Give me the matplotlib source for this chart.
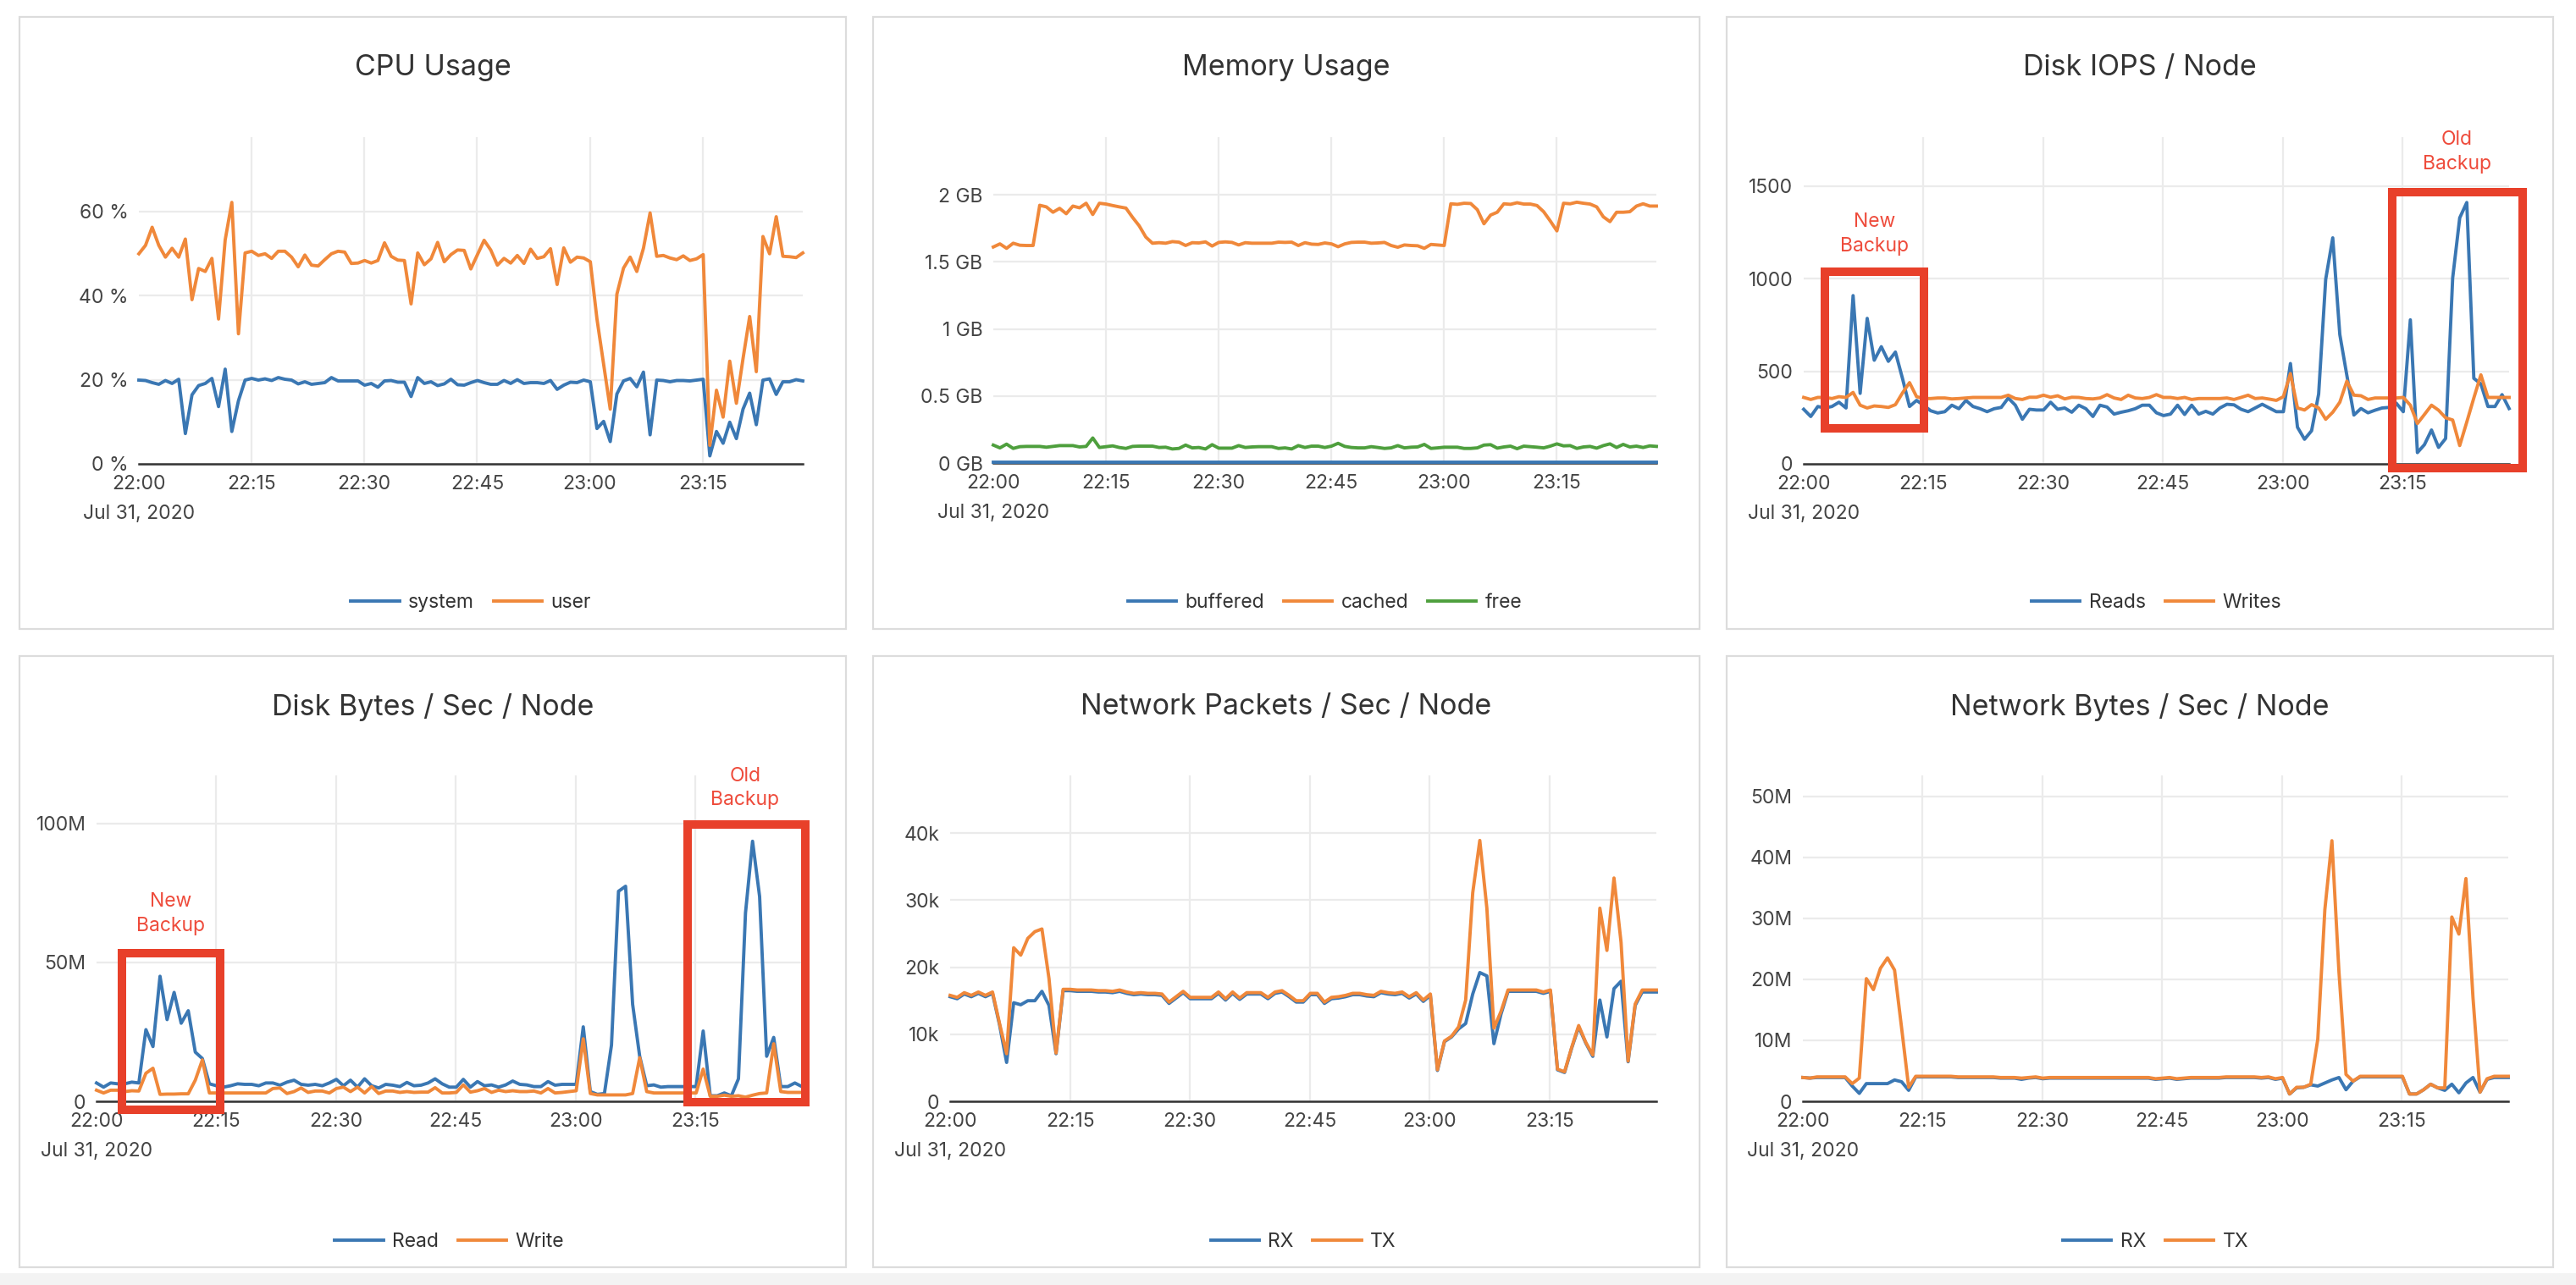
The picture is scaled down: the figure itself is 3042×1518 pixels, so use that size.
import numpy as np
import matplotlib
matplotlib.use('Agg')
import matplotlib.pyplot as plt
import matplotlib.dates as mdates
from matplotlib.patches import Rectangle
from matplotlib.ticker import FuncFormatter

plt.rcParams['font.family'] = ['Inter', 'DejaVu Sans']

BLUE = '#3a77b3'
ORANGE = '#f0883a'
GREEN = '#4e9f3d'
RED = '#e8402a'
RED_TXT = '#ee4b3b'

# sample grid: one point every 53 s from 22:00
start = np.datetime64('2020-07-31T22:00:00')
times = start + np.arange(101) * np.timedelta64(53, 's')

# CPU (%)
cpu_system = [19.9, 19.8, 19.3, 18.9, 19.8, 19.1, 20.1, 7.2, 16.4, 18.6,
              19.1, 20.3, 13.6, 22.5, 7.7, 15.0, 19.9, 20.3, 19.9, 20.2,
              19.8, 20.5, 20.1, 19.9, 19.0, 19.5, 18.9, 19.1, 19.3, 20.5,
              19.7, 19.7, 19.7, 19.7, 18.7, 19.1, 18.2, 19.7, 19.8, 19.4,
              19.4, 16.0, 20.5, 19.1, 19.5, 18.6, 19.0, 20.1, 18.8, 18.7,
              19.3, 19.8, 19.3, 18.9, 18.9, 19.8, 19.1, 20.0, 19.1, 19.3,
              19.3, 19.1, 19.8, 17.7, 18.7, 19.4, 19.3, 19.9, 19.5, 8.4,
              10.1, 5.3, 16.6, 19.7, 20.3, 18.3, 21.8, 6.9, 19.9, 19.8,
              19.5, 19.8, 19.8, 19.7, 19.9, 20.1, 1.9, 7.7, 4.9, 9.9,
              6.0, 13.0, 16.8, 9.3, 19.9, 20.2, 16.5, 19.5, 19.5, 20.0,
              19.7]
cpu_user = [49.9, 51.9, 56.2, 51.9, 49.1, 51.2, 49.1, 53.4, 39.0, 46.4,
            45.7, 48.8, 34.4, 53.2, 62.1, 30.9, 50.1, 50.5, 49.5, 49.9,
            48.8, 50.5, 50.5, 49.1, 46.8, 49.6, 47.2, 47.0, 48.5, 49.9,
            50.5, 50.3, 47.6, 47.7, 48.3, 47.7, 48.3, 52.5, 49.3, 48.4,
            48.3, 38.0, 50.1, 47.3, 48.7, 52.6, 48.0, 49.7, 50.8, 50.7,
            46.3, 49.7, 53.1, 50.8, 47.2, 48.8, 47.7, 49.5, 47.6, 51.0,
            48.8, 49.2, 51.1, 42.6, 51.3, 47.9, 49.1, 48.9, 48.0, 34.4,
            23.7, 13.0, 40.3, 46.5, 49.1, 45.7, 51.2, 59.6, 49.3, 49.5,
            48.9, 48.5, 49.4, 48.3, 48.7, 49.7, 4.4, 17.5, 11.1, 24.4,
            14.4, 25.0, 35.0, 21.9, 54.0, 49.9, 58.7, 49.3, 49.2, 49.0,
            50.1]

# Memory (GB)
mem_buffered = [0.004] * 101
mem_cached = [1.611, 1.634, 1.601, 1.639, 1.624, 1.622, 1.622, 1.922, 1.910, 1.870,
              1.899, 1.859, 1.916, 1.903, 1.937, 1.853, 1.937, 1.931, 1.920, 1.910,
              1.901, 1.832, 1.769, 1.685, 1.639, 1.643, 1.639, 1.651, 1.647, 1.622,
              1.643, 1.641, 1.649, 1.618, 1.645, 1.649, 1.645, 1.626, 1.643, 1.639,
              1.639, 1.639, 1.639, 1.647, 1.645, 1.647, 1.622, 1.643, 1.632, 1.630,
              1.641, 1.634, 1.613, 1.634, 1.645, 1.647, 1.647, 1.639, 1.641, 1.645,
              1.622, 1.609, 1.626, 1.622, 1.620, 1.601, 1.630, 1.626, 1.622, 1.933,
              1.929, 1.937, 1.935, 1.889, 1.784, 1.849, 1.870, 1.933, 1.929, 1.941,
              1.931, 1.931, 1.920, 1.874, 1.805, 1.731, 1.937, 1.933, 1.945, 1.937,
              1.931, 1.910, 1.836, 1.800, 1.870, 1.870, 1.874, 1.916, 1.933, 1.916,
              1.916]
mem_free = [0.134, 0.113, 0.141, 0.109, 0.122, 0.124, 0.124, 0.124, 0.118, 0.124,
            0.130, 0.130, 0.130, 0.120, 0.124, 0.187, 0.116, 0.122, 0.128, 0.116,
            0.109, 0.124, 0.126, 0.126, 0.126, 0.116, 0.118, 0.105, 0.109, 0.134,
            0.113, 0.116, 0.105, 0.137, 0.111, 0.111, 0.111, 0.130, 0.116, 0.120,
            0.122, 0.122, 0.122, 0.109, 0.113, 0.105, 0.130, 0.116, 0.126, 0.126,
            0.116, 0.126, 0.147, 0.124, 0.116, 0.113, 0.113, 0.122, 0.116, 0.109,
            0.113, 0.130, 0.113, 0.118, 0.120, 0.139, 0.109, 0.113, 0.118, 0.118,
            0.118, 0.109, 0.109, 0.113, 0.134, 0.137, 0.111, 0.120, 0.126, 0.107,
            0.126, 0.122, 0.118, 0.113, 0.126, 0.143, 0.128, 0.130, 0.109, 0.120,
            0.124, 0.111, 0.130, 0.143, 0.116, 0.139, 0.120, 0.126, 0.116, 0.128,
            0.124]

# Disk IOPS
iops_reads = [295, 256, 310, 302, 310, 333, 302, 909, 381, 786,
              560, 633, 554, 604, 462, 310, 343, 317, 287, 275,
              282, 317, 298, 343, 310, 298, 282, 298, 305, 356,
              317, 241, 295, 291, 291, 333, 295, 302, 279, 317,
              298, 256, 317, 307, 269, 279, 287, 298, 317, 317,
              276, 261, 269, 317, 267, 317, 269, 284, 269, 302,
              322, 319, 295, 282, 302, 322, 302, 282, 282, 542,
              198, 133, 179, 377, 997, 1221, 699, 478, 264, 299,
              276, 290, 302, 305, 328, 282, 778, 61, 104, 183,
              89, 137, 1004, 1329, 1412, 462, 432, 310, 310, 374,
              299]
iops_writes = [359, 348, 359, 359, 353, 363, 359, 386, 317, 302,
               313, 310, 305, 320, 383, 439, 363, 353, 353, 356,
               356, 351, 353, 356, 359, 359, 359, 359, 359, 371,
               353, 348, 360, 360, 371, 360, 368, 351, 360, 359,
               353, 351, 356, 374, 356, 348, 371, 356, 353, 359,
               374, 359, 359, 353, 359, 348, 353, 353, 353, 353,
               356, 348, 359, 371, 353, 356, 350, 343, 363, 488,
               302, 291, 320, 302, 241, 279, 333, 447, 371, 368,
               348, 356, 356, 356, 356, 359, 317, 218, 267, 317,
               290, 249, 237, 99, 226, 356, 481, 359, 359, 359,
               359]

# Disk bytes / sec (M)
disk_read = [6.6, 5.1, 6.6, 6.3, 6.3, 6.9, 6.6, 25.8, 19.7, 45.0,
             29.4, 39.2, 28.1, 32.6, 17.7, 15.4, 6.3, 5.6, 5.1, 5.6,
             6.3, 6.1, 6.1, 5.6, 6.6, 6.6, 5.8, 6.9, 7.6, 6.1,
             5.8, 6.1, 5.6, 6.6, 7.9, 5.6, 7.6, 5.1, 8.1, 5.6,
             4.8, 6.1, 5.8, 5.3, 6.8, 5.6, 5.8, 6.6, 8.1, 6.3,
             5.1, 5.1, 7.9, 5.1, 7.1, 5.6, 5.9, 5.1, 5.9, 7.3,
             6.1, 5.9, 5.3, 5.3, 7.1, 5.8, 6.1, 6.1, 6.1, 26.8,
             3.5, 2.5, 2.8, 20.2, 75.6, 77.4, 34.9, 16.2, 5.6, 5.9,
             5.1, 5.3, 5.3, 5.3, 5.3, 5.3, 25.3, 2.0, 2.0, 3.0,
             2.0, 8.1, 67.8, 93.6, 73.7, 16.2, 23.0, 5.3, 5.3, 6.6,
             5.3]
disk_write = [4.0, 3.0, 4.0, 4.0, 3.5, 3.8, 3.7, 10.1, 11.9, 2.5,
              2.6, 2.6, 2.7, 2.7, 7.6, 14.9, 3.0, 3.0, 3.0, 3.0,
              3.0, 3.0, 3.0, 3.0, 3.0, 4.6, 4.8, 2.8, 3.5, 4.8,
              3.2, 3.7, 3.7, 3.0, 4.6, 5.1, 3.5, 5.1, 3.0, 5.3,
              2.8, 3.7, 3.7, 3.2, 3.5, 3.2, 3.3, 3.3, 4.9, 3.0,
              3.0, 3.2, 5.9, 3.3, 3.8, 4.6, 3.2, 4.0, 3.5, 3.8,
              3.5, 3.5, 3.7, 3.0, 4.6, 3.0, 3.2, 3.5, 3.8, 22.5,
              2.8, 2.3, 2.3, 2.3, 2.3, 2.3, 2.8, 15.7, 3.5, 3.0,
              3.0, 3.0, 3.0, 3.0, 3.0, 3.0, 11.6, 1.8, 1.8, 2.2,
              1.8, 2.0, 1.5, 2.2, 2.8, 3.0, 20.7, 3.5, 3.2, 3.2,
              3.2]

# Network packets / sec (k)
pkt_rx = [15.6, 15.3, 16.0, 15.6, 16.1, 15.6, 16.1, 11.4, 5.8, 14.7,
          14.4, 15.0, 15.0, 16.4, 14.3, 7.1, 16.5, 16.5, 16.4, 16.4,
          16.4, 16.3, 16.3, 16.2, 16.4, 16.1, 15.9, 16.0, 15.9, 15.9,
          15.8, 14.6, 15.4, 16.2, 15.3, 15.3, 15.3, 15.3, 16.1, 15.1,
          16.1, 15.2, 16.0, 16.0, 16.0, 15.3, 16.1, 16.3, 15.6, 14.8,
          14.8, 15.9, 15.9, 14.6, 15.3, 15.4, 15.6, 15.9, 15.9, 15.7,
          15.6, 16.2, 16.0, 15.9, 16.1, 15.4, 16.0, 14.9, 15.8, 4.6,
          8.9, 9.6, 10.8, 11.6, 16.0, 19.2, 18.7, 8.6, 13.0, 16.4,
          16.4, 16.4, 16.4, 16.4, 16.1, 16.4, 4.7, 4.3, 7.9, 11.1,
          8.7, 6.7, 15.1, 9.6, 16.8, 17.9, 5.9, 14.3, 16.3, 16.3,
          16.3]
pkt_tx = [15.8, 15.5, 16.2, 15.8, 16.3, 15.8, 16.3, 11.6, 7.1, 22.9,
          21.8, 24.3, 25.3, 25.7, 18.3, 7.2, 16.7, 16.7, 16.6, 16.6,
          16.6, 16.5, 16.5, 16.4, 16.6, 16.3, 16.1, 16.2, 16.1, 16.1,
          16.0, 14.8, 15.6, 16.4, 15.5, 15.5, 15.5, 15.5, 16.3, 15.3,
          16.3, 15.4, 16.2, 16.2, 16.2, 15.5, 16.3, 16.5, 15.8, 15.0,
          15.0, 16.1, 16.1, 14.8, 15.5, 15.6, 15.8, 16.1, 16.1, 15.9,
          15.8, 16.4, 16.2, 16.1, 16.3, 15.6, 16.2, 15.1, 16.0, 4.7,
          9.0, 9.7, 11.1, 15.1, 31.1, 38.9, 28.8, 10.9, 13.4, 16.6,
          16.6, 16.6, 16.6, 16.6, 16.3, 16.6, 4.8, 4.4, 8.0, 11.3,
          8.8, 6.9, 28.8, 22.5, 33.3, 23.7, 6.0, 14.5, 16.6, 16.6,
          16.6]

# Network bytes / sec (M)
net_rx = [3.9, 3.8, 3.9, 3.9, 3.9, 3.9, 3.9, 2.5, 1.3, 2.9,
          2.9, 2.9, 2.9, 3.5, 3.2, 1.8, 4.0, 4.0, 4.0, 4.0,
          4.0, 4.0, 3.9, 3.9, 3.9, 3.9, 3.9, 3.9, 3.8, 3.8,
          3.8, 3.6, 3.8, 3.9, 3.7, 3.8, 3.8, 3.8, 3.8, 3.8,
          3.8, 3.8, 3.8, 3.8, 3.8, 3.8, 3.8, 3.8, 3.8, 3.8,
          3.6, 3.7, 3.8, 3.6, 3.7, 3.8, 3.8, 3.8, 3.8, 3.8,
          3.9, 3.9, 3.9, 3.9, 3.9, 3.8, 3.9, 3.6, 3.8, 1.2,
          2.2, 2.3, 2.7, 2.5, 3.0, 3.5, 3.9, 1.9, 3.3, 4.0,
          4.0, 4.0, 4.0, 4.0, 4.0, 4.0, 1.2, 1.2, 1.9, 2.8,
          2.2, 1.8, 2.8, 1.4, 3.0, 3.9, 1.5, 3.6, 3.9, 3.9,
          3.9]
net_tx = [3.9, 3.8, 4.0, 4.0, 4.0, 4.0, 4.0, 2.9, 3.8, 20.1,
          18.3, 21.8, 23.5, 21.5, 12.0, 2.3, 4.1, 4.1, 4.1, 4.1,
          4.1, 4.1, 4.0, 4.0, 4.0, 4.0, 4.0, 4.0, 3.9, 3.9,
          3.9, 3.8, 3.9, 4.0, 3.8, 3.9, 3.9, 3.9, 3.9, 3.9,
          3.9, 3.9, 3.9, 3.9, 3.9, 3.9, 3.9, 3.9, 3.9, 3.9,
          3.7, 3.8, 3.9, 3.7, 3.8, 3.9, 3.9, 3.9, 3.9, 3.9,
          4.0, 4.0, 4.0, 4.0, 4.0, 3.9, 4.0, 3.7, 3.9, 1.2,
          2.3, 2.3, 2.8, 10.2, 31.4, 42.7, 21.2, 4.4, 3.3, 4.1,
          4.1, 4.1, 4.1, 4.1, 4.1, 4.1, 1.2, 1.2, 1.9, 2.8,
          2.2, 2.2, 30.2, 27.4, 36.5, 17.0, 1.5, 3.7, 4.1, 4.1,
          4.1]

W, H = 3042, 1518
fig = plt.figure(figsize=(W / 100, H / 100), dpi=100)
fig.patch.set_facecolor('white')


def px_rect(x0, y0, x1, y1):
    # pixel box (top-left origin) -> figure fraction [l, b, w, h]
    return [x0 / W, 1 - y1 / H, (x1 - x0) / W, (y1 - y0) / H]


def time_fmt(x, pos):
    dt = mdates.num2date(x)
    s = dt.strftime('%H:%M')
    if pos == 0:
        s += '\n' + dt.strftime('%b %d, %Y')
    return s


panels = [
    # frame (px), axes (px), title
    ((23, 20, 999, 743), (164, 162, 948, 548), 'CPU Usage'),
    ((1031, 20, 2007, 743), (1173, 162, 1956, 547), 'Memory Usage'),
    ((2039, 20, 3015, 743), (2130, 162, 2963, 548), 'Disk IOPS / Node'),
    ((23, 775, 999, 1497), (114, 916, 947, 1301), 'Disk Bytes / Sec / Node'),
    ((1031, 775, 2007, 1497), (1122, 916, 1956, 1301), 'Network Packets / Sec / Node'),
    ((2039, 775, 3015, 1497), (2129, 916, 2962, 1301), 'Network Bytes / Sec / Node'),
]

series = [
    [('system', cpu_system, BLUE), ('user', cpu_user, ORANGE)],
    [('buffered', mem_buffered, BLUE), ('cached', mem_cached, ORANGE), ('free', mem_free, GREEN)],
    [('Reads', iops_reads, BLUE), ('Writes', iops_writes, ORANGE)],
    [('Read', disk_read, BLUE), ('Write', disk_write, ORANGE)],
    [('RX', pkt_rx, BLUE), ('TX', pkt_tx, ORANGE)],
    [('RX', net_rx, BLUE), ('TX', net_tx, ORANGE)],
]

yaxes = [
    (77.6, [0, 20, 40, 60], ['0 %', '20 %', '40 %', '60 %']),
    (2.43, [0, 0.5, 1, 1.5, 2], ['0 GB', '0.5 GB', '1 GB', '1.5 GB', '2 GB']),
    (1765, [0, 500, 1000, 1500], ['0', '500', '1000', '1500']),
    (117.3, [0, 50, 100], ['0', '50M', '100M']),
    (48.6, [0, 10, 20, 30, 40], ['0', '10k', '20k', '30k', '40k']),
    (53.4, [0, 10, 20, 30, 40, 50], ['0', '10M', '20M', '30M', '40M', '50M']),
]

axes = []
for (frame, box, title), ser, (ymax, yt, yl) in zip(panels, series, yaxes):
    fig.add_artist(Rectangle((frame[0] / W, 1 - frame[3] / H),
                             (frame[2] - frame[0]) / W, (frame[3] - frame[1]) / H,
                             transform=fig.transFigure, fill=False,
                             ec='#dcdcdc', lw=1.6))
    fig.text((frame[0] + frame[2]) / 2 / W, 1 - (frame[1] + 60) / H, title,
             ha='center', va='center', fontsize=24.5, color='#333333')

    ax = fig.add_axes(px_rect(*box))
    for name, vals, col in ser:
        ax.plot(times, vals, color=col, lw=2.8, label=name, zorder=3,
                clip_on=False, solid_joinstyle='round')
    ax.set_xlim(times[0], times[-1])
    ax.set_ylim(0, ymax)
    ax.set_yticks(yt, yl)
    ax.xaxis.set_major_locator(mdates.MinuteLocator(byminute=[0, 15, 30, 45]))
    ax.xaxis.set_major_formatter(FuncFormatter(time_fmt))
    for s in ['top', 'right', 'left']:
        ax.spines[s].set_visible(False)
    ax.spines['bottom'].set_color('#333333')
    ax.spines['bottom'].set_linewidth(1.8)
    ax.spines['bottom'].set_zorder(2.5)
    ax.grid(True, color='#ebebeb', lw=1.6, zorder=0)
    ax.set_axisbelow(True)
    ax.tick_params(length=0, labelsize=16.5, labelcolor='#444444')
    ax.tick_params(axis='x', pad=9.5)
    ax.tick_params(axis='y', pad=9)
    for lab in ax.get_xticklabels():
        lab.set_linespacing(1.75)
    ax.xaxis.get_gridlines()[0].set_visible(False)

    cx = (box[0] + box[2]) / 2 / W
    ly = 1 - (frame[1] + 692) / H
    ax.legend(loc='center', bbox_to_anchor=(cx, ly), bbox_transform=fig.transFigure,
              ncol=len(ser), frameon=False, fontsize=16.5, handlelength=2.5,
              handletextpad=0.45, columnspacing=1.0, labelcolor='#333333')
    axes.append(ax)


def mark(ax, t0, t1, y0, y1):
    x0 = mdates.date2num(np.datetime64(t0))
    x1 = mdates.date2num(np.datetime64(t1))
    ax.add_patch(Rectangle((x0, y0), x1 - x0, y1 - y0, fill=False, ec=RED,
                           lw=7.2, joinstyle='miter', zorder=5, clip_on=False))


def note(ax, t, y, s):
    ax.text(np.datetime64(t), y, s, ha='center', va='center', fontsize=16.5,
            color=RED_TXT, linespacing=1.4, zorder=6, clip_on=False)


# Disk IOPS annotations
mark(axes[2], '2020-07-31T22:02:42', '2020-07-31T22:15:04', 194, 1038)
mark(axes[2], '2020-07-31T23:13:42', '2020-07-31T23:30:00', -23, 1470)
note(axes[2], '2020-07-31T22:08:54', 1241, 'New\nBackup')
note(axes[2], '2020-07-31T23:21:48', 1685, 'Old\nBackup')

# Disk bytes annotations
mark(axes[3], '2020-07-31T22:03:08', '2020-07-31T22:15:30', -3.0, 53.2)
mark(axes[3], '2020-07-31T23:14:00', '2020-07-31T23:28:45', -0.3, 99.7)
note(axes[3], '2020-07-31T22:09:18', 67.4, 'New\nBackup')
note(axes[3], '2020-07-31T23:21:12', 112.7, 'Old\nBackup')

# faint shadow strip at the bottom of the screenshot
fig.add_artist(Rectangle((0, 0), 1, 14 / H, transform=fig.transFigure,
                         color='#f3f3f3', lw=0, zorder=-1))

fig.savefig('out.png', dpi=100, facecolor='white')
